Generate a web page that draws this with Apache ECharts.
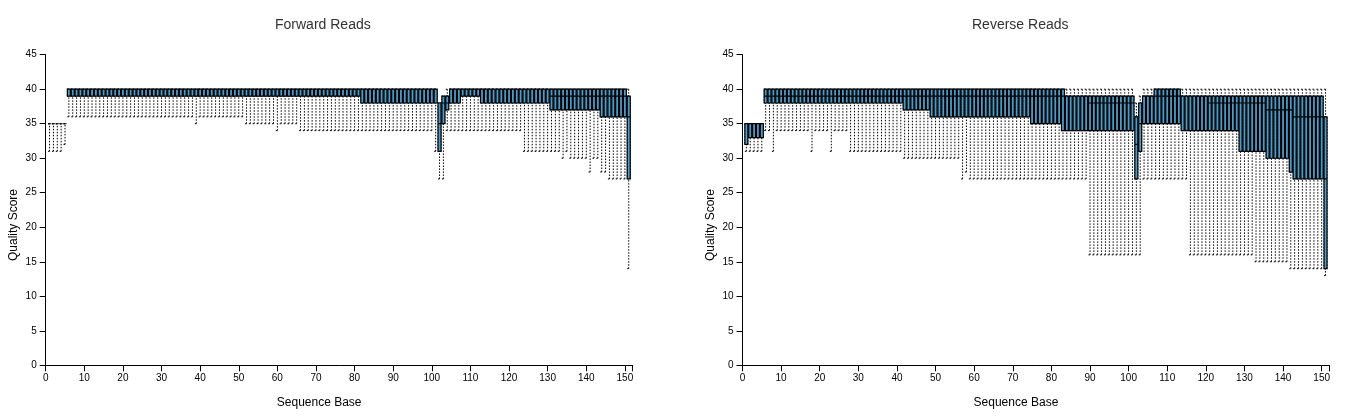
<!DOCTYPE html>
<html>
<head>
<meta charset="utf-8">
<script src="https://cdn.jsdelivr.net/npm/echarts@6/dist/echarts.min.js"></script>
<style>html,body{margin:0;padding:0;background:#fff}#c{width:1356px;height:420px}</style>
</head>
<body>
<div id="c"></div>
<script>
// Sequence base positions 1..151
const bases = Array.from({length: 151}, (_, i) => i + 1);
const xTicks = [0,10,20,30,40,50,60,70,80,90,100,110,120,130,140,150];
const yTicks = [0,5,10,15,20,25,30,35,40,45];

// Forward reads: whisker low, Q1, median, Q3, whisker high
const fLow = [31,31,31,31,32,36,36,36,36,36,
 36,36,36,36,36,36,36,36,36,36,
 36,36,36,36,36,36,36,36,36,36,
 36,36,36,36,36,36,36,36,35,36,
 36,36,36,36,36,36,36,36,36,36,
 36,35,35,35,35,35,35,35,35,34,
 35,35,35,35,35,34,34,34,34,34,
 34,34,34,34,34,34,34,34,34,34,
 34,34,34,34,34,34,34,34,34,34,
 34,34,34,34,34,34,34,34,34,34,
 31,27,27,34,34,34,34,34,34,34,
 34,34,34,34,34,34,34,34,34,34,
 34,34,34,31,31,31,31,31,31,31,
 31,31,31,30,31,30,30,30,30,30,
 28,30,30,28,28,27,27,27,27,27,
 14];
const fQ1 = [35,35,35,35,35,39,39,39,39,39,
 39,39,39,39,39,39,39,39,39,39,
 39,39,39,39,39,39,39,39,39,39,
 39,39,39,39,39,39,39,39,39,39,
 39,39,39,39,39,39,39,39,39,39,
 39,39,39,39,39,39,39,39,39,39,
 39,39,39,39,39,39,39,39,39,39,
 39,39,39,39,39,39,39,39,39,39,
 39,38,38,38,38,38,38,38,38,38,
 38,38,38,38,38,38,38,38,38,38,
 38,31,35,37,38,38,38,39,39,39,
 39,39,38,38,38,38,38,38,38,38,
 38,38,38,38,38,38,38,38,38,38,
 37,37,37,37,37,37,37,37,37,37,
 37,37,37,36,36,36,36,36,36,36,
 27];
const fMed = [35,35,35,35,35,40,40,40,40,40,
 40,40,40,40,40,40,40,40,40,40,
 40,40,40,40,40,40,40,40,40,40,
 40,40,40,40,40,40,40,40,40,40,
 40,40,40,40,40,40,40,40,40,40,
 40,40,40,40,40,40,40,40,40,40,
 40,40,40,40,40,40,40,40,40,40,
 40,40,40,40,40,40,40,40,40,40,
 40,40,40,40,40,40,40,40,40,40,
 40,40,40,40,40,40,40,40,40,40,
 40,35,38,38,40,40,40,40,40,40,
 40,40,40,40,40,40,40,40,40,40,
 40,40,40,40,40,40,40,40,40,40,
 39,39,39,39,39,39,39,39,39,39,
 39,39,39,39,39,39,39,39,39,39,
 36];
const fQ3 = [35,35,35,35,35,40,40,40,40,40,
 40,40,40,40,40,40,40,40,40,40,
 40,40,40,40,40,40,40,40,40,40,
 40,40,40,40,40,40,40,40,40,40,
 40,40,40,40,40,40,40,40,40,40,
 40,40,40,40,40,40,40,40,40,40,
 40,40,40,40,40,40,40,40,40,40,
 40,40,40,40,40,40,40,40,40,40,
 40,40,40,40,40,40,40,40,40,40,
 40,40,40,40,40,40,40,40,40,40,
 40,38,39,39,40,40,40,40,40,40,
 40,40,40,40,40,40,40,40,40,40,
 40,40,40,40,40,40,40,40,40,40,
 40,40,40,40,40,40,40,40,40,40,
 40,40,40,40,40,40,40,40,40,40,
 39];
const fHigh = [35,35,35,35,35,40,40,40,40,40,
 40,40,40,40,40,40,40,40,40,40,
 40,40,40,40,40,40,40,40,40,40,
 40,40,40,40,40,40,40,40,40,40,
 40,40,40,40,40,40,40,40,40,40,
 40,40,40,40,40,40,40,40,40,40,
 40,40,40,40,40,40,40,40,40,40,
 40,40,40,40,40,40,40,40,40,40,
 40,40,40,40,40,40,40,40,40,40,
 40,40,40,40,40,40,40,40,40,40,
 40,38,39,40,40,40,40,40,40,40,
 40,40,40,40,40,40,40,40,40,40,
 40,40,40,40,40,40,40,40,40,40,
 40,40,40,40,40,40,40,40,40,40,
 40,40,40,40,40,40,40,40,40,40,
 40];

// Reverse reads
const rLow = [31,31,31,31,31,34,34,31,34,34,
 34,34,34,34,34,34,34,31,34,34,
 34,34,31,34,34,34,34,31,31,31,
 31,31,31,31,31,31,31,31,31,31,
 31,30,30,30,30,30,30,30,30,30,
 30,30,30,30,30,30,27,28,27,27,
 27,27,27,27,27,27,27,27,27,27,
 27,27,27,27,27,27,27,27,27,27,
 27,27,27,27,27,27,27,27,27,16,
 16,16,16,16,16,16,16,16,16,16,
 16,16,16,27,27,27,27,27,27,27,
 27,27,27,27,27,16,16,16,16,16,
 16,16,16,16,16,16,16,16,16,16,
 16,16,15,15,15,15,15,15,15,15,
 15,14,14,14,14,14,14,14,14,14,
 13];
const rQ1 = [32,33,33,33,33,38,38,38,38,38,
 38,38,38,38,38,38,38,38,38,38,
 38,38,38,38,38,38,38,38,38,38,
 38,38,38,38,38,38,38,38,38,38,
 38,37,37,37,37,37,37,37,36,36,
 36,36,36,36,36,36,36,36,36,36,
 36,36,36,36,36,36,36,36,36,36,
 36,36,36,36,35,35,35,35,35,35,
 35,35,34,34,34,34,34,34,34,34,
 34,34,34,34,34,34,34,34,34,34,
 34,27,31,35,35,35,35,35,35,35,
 35,35,35,34,34,34,34,34,34,34,
 34,34,34,34,34,34,34,34,31,31,
 31,31,31,31,31,30,30,30,30,30,
 30,28,27,27,27,27,27,27,27,27,
 14];
const rMed = [35,35,35,35,35,39,39,39,39,39,
 39,39,39,39,39,39,39,39,39,39,
 39,39,39,39,39,39,39,39,39,39,
 39,39,39,39,39,39,39,39,39,39,
 39,39,39,39,39,39,39,39,39,39,
 39,39,39,39,39,39,39,39,39,39,
 39,39,39,39,39,39,39,39,39,39,
 39,39,39,39,39,39,39,39,39,39,
 39,39,39,39,39,39,39,39,39,38,
 38,38,38,38,38,38,38,38,38,38,
 38,32,35,39,39,39,39,39,39,39,
 39,39,39,39,39,39,39,39,39,39,
 38,38,38,38,38,38,38,38,38,38,
 38,38,38,38,38,37,37,37,37,37,
 37,37,36,36,36,36,36,36,36,36,
 27];
const rQ3 = [35,35,35,35,35,40,40,40,40,40,
 40,40,40,40,40,40,40,40,40,40,
 40,40,40,40,40,40,40,40,40,40,
 40,40,40,40,40,40,40,40,40,40,
 40,40,40,40,40,40,40,40,40,40,
 40,40,40,40,40,40,40,40,40,40,
 40,40,40,40,40,40,40,40,40,40,
 40,40,40,40,40,40,40,40,40,40,
 40,40,40,39,39,39,39,39,39,39,
 39,39,39,39,39,39,39,39,39,39,
 39,36,38,39,39,39,40,40,40,40,
 40,40,40,39,39,39,39,39,39,39,
 39,39,39,39,39,39,39,39,39,39,
 39,39,39,39,39,39,39,39,39,39,
 39,39,39,39,39,39,39,39,39,39,
 36];
const rHigh = [35,35,35,35,35,40,40,40,40,40,
 40,40,40,40,40,40,40,40,40,40,
 40,40,40,40,40,40,40,40,40,40,
 40,40,40,40,40,40,40,40,40,40,
 40,40,40,40,40,40,40,40,40,40,
 40,40,40,40,40,40,40,40,40,40,
 40,40,40,40,40,40,40,40,40,40,
 40,40,40,40,40,40,40,40,40,40,
 40,40,40,40,40,40,40,40,40,40,
 40,40,40,40,40,40,40,40,40,40,
 40,38,39,40,40,40,40,40,40,40,
 40,40,40,40,40,40,40,40,40,40,
 40,40,40,40,40,40,40,40,40,40,
 40,40,40,40,40,40,40,40,40,40,
 40,40,40,40,40,40,40,40,40,40,
 40];

const FONT = 'Liberation Sans, Arial, sans-serif';
const BOXW = 3.0;

function whiskerData(low, q1, med, q3, high) {
  return bases.map((b, i) => [b, low[i], q1[i], med[i], q3[i], high[i]]);
}
function boxData(q1, med, q3) {
  return bases.filter((b, i) => q3[i] > q1[i])
    .map(b => { const i = b - 1; return [b, q1[i], q1[i], med[i], q3[i], q3[i]]; });
}

function xAxes(gi) {
  return [{
    gridIndex: gi, type: 'value', min: 0, max: 152, interval: 10,
    name: 'Sequence Base', nameLocation: 'middle', nameGap: 31,
    nameTextStyle: {fontFamily: FONT, fontSize: 12, color: '#000', padding: [0, 40, 0, 0]},
    axisLine: {show: true, onZero: false, lineStyle: {color: '#000', width: 1}},
    axisTick: {show: true, length: 6, lineStyle: {color: '#000'}},
    axisLabel: {fontFamily: FONT, fontSize: 10, color: '#000', margin: 8,
      formatter: v => (xTicks.indexOf(v) >= 0 ? String(v) : '')},
    splitLine: {show: false}
  }, {
    gridIndex: gi, type: 'value', min: 0, max: 152, show: false
  }];
}
function yAxis(gi) {
  return {
    gridIndex: gi, type: 'value', min: 0, max: 45, interval: 5,
    name: 'Quality Score', nameLocation: 'middle', nameGap: 26,
    nameTextStyle: {fontFamily: FONT, fontSize: 12, color: '#000', padding: [0, 30, 0, 0]},
    axisLine: {show: true, lineStyle: {color: '#000', width: 1}},
    axisTick: {show: true, length: 6, lineStyle: {color: '#000'}},
    axisLabel: {fontFamily: FONT, fontSize: 10, color: '#000', margin: 9,
      formatter: v => (yTicks.indexOf(v) >= 0 ? String(v) : '')},
    splitLine: {show: false}
  };
}
function seriesFor(xi, yi, low, q1, med, q3, high) {
  return [{
    type: 'boxplot', xAxisIndex: xi, yAxisIndex: yi,
    data: whiskerData(low, q1, med, q3, high),
    boxWidth: [BOXW, BOXW], silent: true, z: 1,
    emphasis: {disabled: true},
    itemStyle: {color: 'rgba(0,0,0,0)', borderColor: '#000', borderWidth: 1, borderType: [1.5, 1.5]}
  }, {
    type: 'boxplot', xAxisIndex: xi + 1, yAxisIndex: yi,
    data: boxData(q1, med, q3),
    boxWidth: [BOXW, BOXW], silent: true, z: 2,
    emphasis: {disabled: true},
    itemStyle: {color: '#4f9ac6', borderColor: '#000', borderWidth: 1.2}
  }];
}

const chart = echarts.init(document.getElementById('c'), null, {renderer: 'canvas'});
chart.setOption({
  animation: false,
  backgroundColor: '#fff',
  title: [
    {text: 'Forward Reads', left: 275, top: 18, padding: 0,
     textStyle: {fontFamily: FONT, fontSize: 14, fontWeight: 'normal', color: '#333'}},
    {text: 'Reverse Reads', left: 972, top: 18, padding: 0,
     textStyle: {fontFamily: FONT, fontSize: 14, fontWeight: 'normal', color: '#333'}}
  ],
  grid: [
    {left: 45.7, top: 54.7, width: 586.9, height: 310.6},
    {left: 742.5, top: 54.7, width: 586.9, height: 310.6}
  ],
  xAxis: [].concat(xAxes(0), xAxes(1)),
  yAxis: [yAxis(0), yAxis(1)],
  series: [].concat(
    seriesFor(0, 0, fLow, fQ1, fMed, fQ3, fHigh),
    seriesFor(2, 1, rLow, rQ1, rMed, rQ3, rHigh)
  )
});
</script>
</body>
</html>
